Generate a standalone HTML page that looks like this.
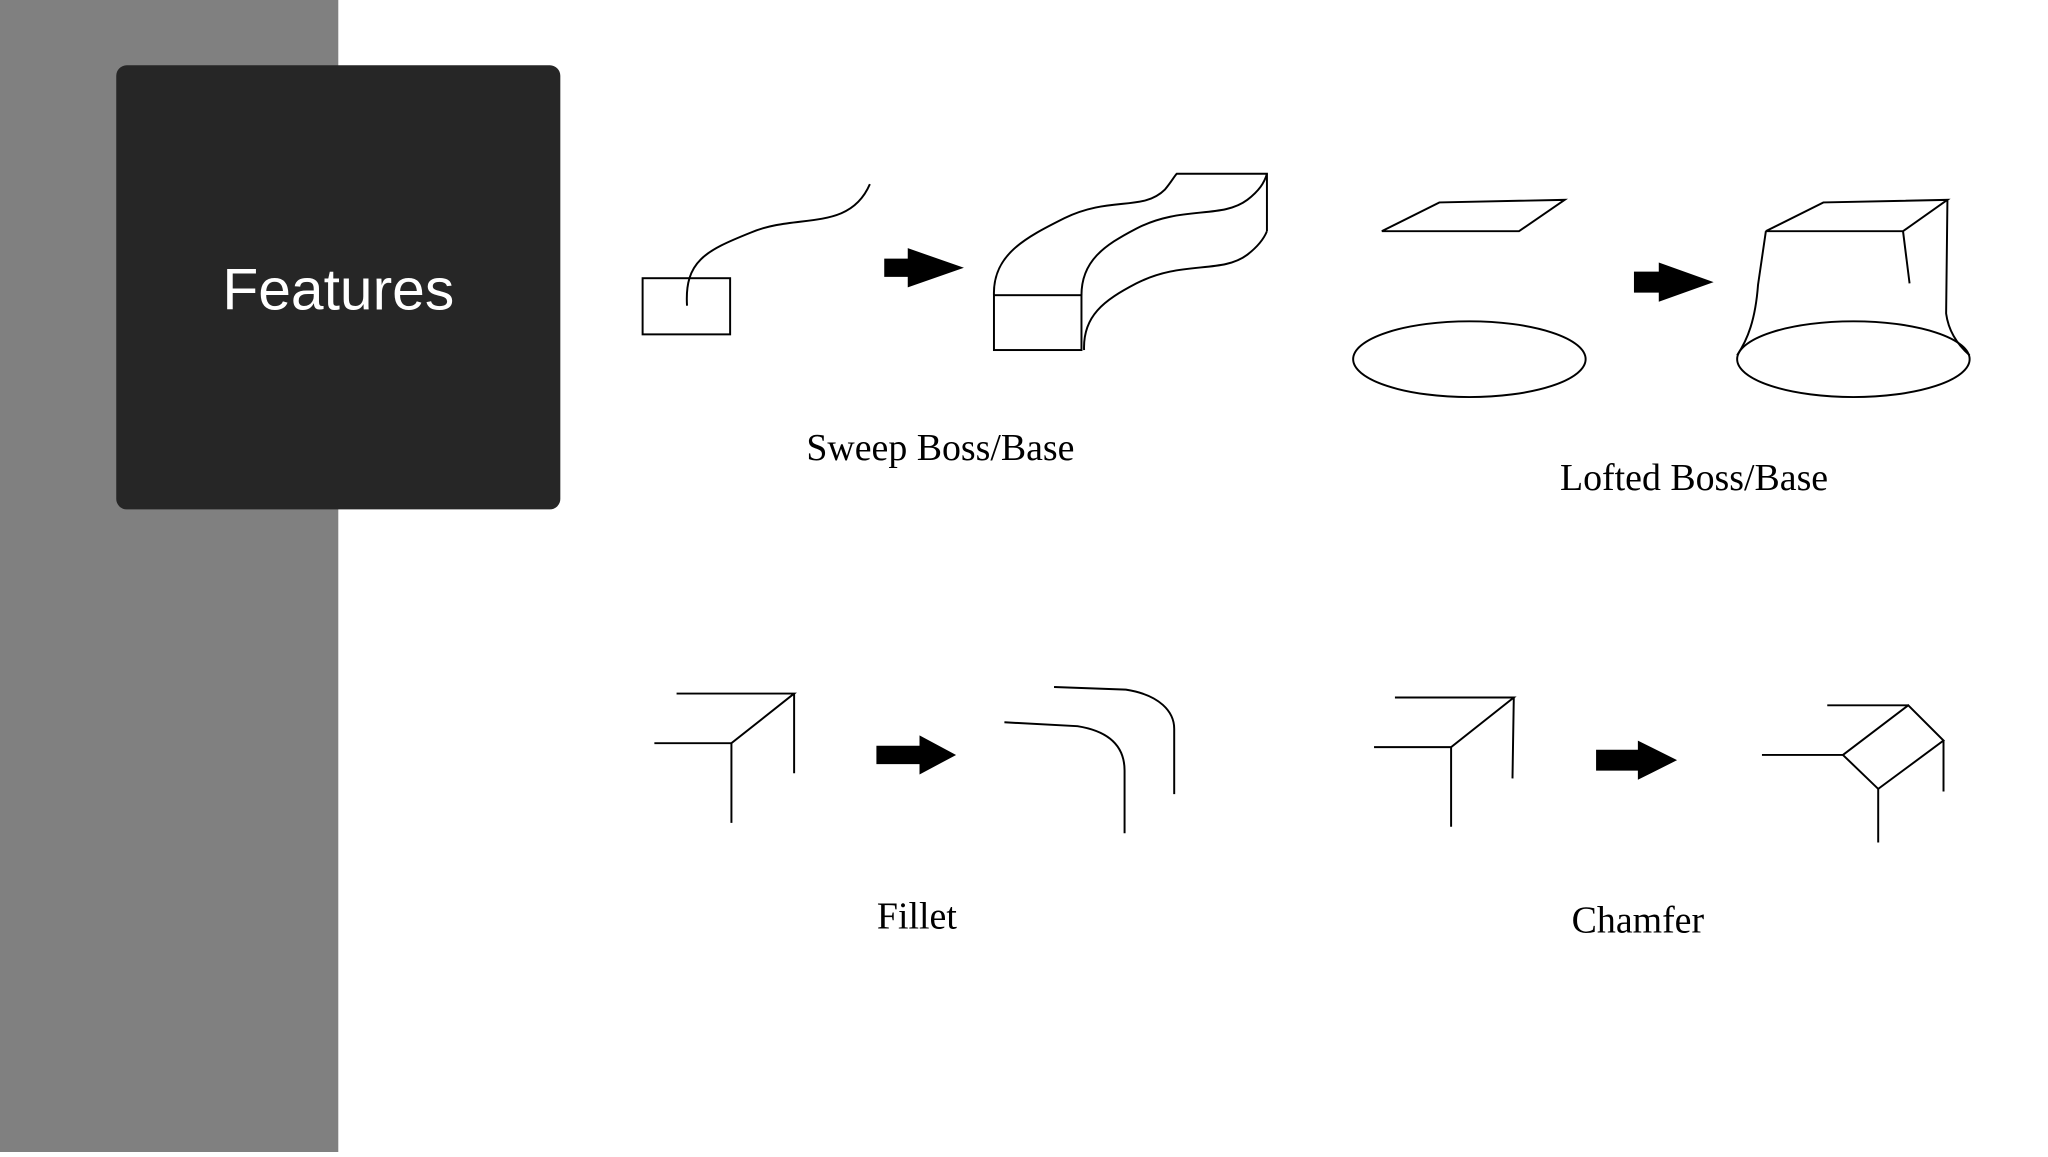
<!DOCTYPE html>
<html><head><style>html,body{margin:0;padding:0;background:#fff;overflow:hidden}</style></head>
<body>
<svg width="2048" height="1152" viewBox="0 0 1568 882" preserveAspectRatio="none" xmlns="http://www.w3.org/2000/svg">
<rect width="1568" height="882" fill="#fff"/>
<rect x="0" y="0" width="259" height="882" fill="#808080"/>
<rect x="89" y="50" width="340" height="340" rx="8" fill="#262626"/>
<text x="259" y="237" text-anchor="middle" font-family="Liberation Sans, sans-serif" font-size="45" fill="#fff">Features</text>
<g fill="none" stroke="#000" stroke-width="1.5">
<rect x="492" y="213" width="67" height="43"/>
<path d="M526,234 C524,200 540,192 575,178 C610,163 650,178 666,141"/>
<rect x="761" y="226" width="67" height="42"/>
<path d="M761,226 C760,195 785,182 815,167 C850,150 875,162 892,145 C897,139 899,135 901,133 L970,133 L970,177"/>
<path d="M828,226 C828,200 845,188 870,175 C905,157 935,168 955,153 C964,146 968,140 970,133"/>
<path d="M830,268 C829,242 845,230 870,217 C905,199 935,210 955,195 C964,188 968,182 970,177"/>
<path d="M1058,177 L1102,155 L1198,153 L1163,177 Z"/>
<ellipse cx="1125" cy="275" rx="89" ry="29"/>
<path d="M1352,177 L1396,155 L1491,153 L1457,177 Z"/>
<ellipse cx="1419" cy="275" rx="89" ry="29"/>
<path d="M1352,177 L1346,218 C1344,245 1338,260 1330,272"/>
<path d="M1491,153 L1490,240 C1492,255 1500,265 1508,272"/>
<path d="M1457,177 L1462,217"/>
<path d="M518,531 L608,531 L560,569 L501,569 M560,569 L560,630 M608,531 L608,592"/>
<path d="M769,553 L825,556 C850,560 861,572 861,590 L861,638"/>
<path d="M807,526 L862,528 C888,532 899,545 899,558 L899,608"/>
<path d="M1068,534 L1159,534 L1111,572 L1052,572 M1111,572 L1111,633 M1159,534 L1158,596"/>
<path d="M1399,540 L1461,540 M1349,578 L1411,578 M1488,567 L1488,606 M1438,604 L1438,645"/>
<path d="M1411,578 L1461,540 L1488,567 L1438,604 Z"/>
</g>
<g fill="#000">
<path d="M677,198 L695,198 L695,190 L738,205 L695,220 L695,212 L677,212 Z"/>
<path d="M1251,208 L1270,208 L1270,201 L1312,216 L1270,231 L1270,224 L1251,224 Z"/>
<path d="M671,571 L704,571 L704,563 L732,578 L704,593 L704,585 L671,585 Z"/>
<path d="M1222,574 L1254,574 L1254,567 L1284,582 L1254,597 L1254,590 L1222,590 Z"/>
</g>
<g font-family="Liberation Serif, serif" font-size="29" fill="#000" text-anchor="middle">
<text x="720" y="352">Sweep Boss/Base</text>
<text x="1297" y="375">Lofted Boss/Base</text>
<text x="702" y="711">Fillet</text>
<text x="1254" y="714">Chamfer</text>
</g>
</svg>
</body></html>
